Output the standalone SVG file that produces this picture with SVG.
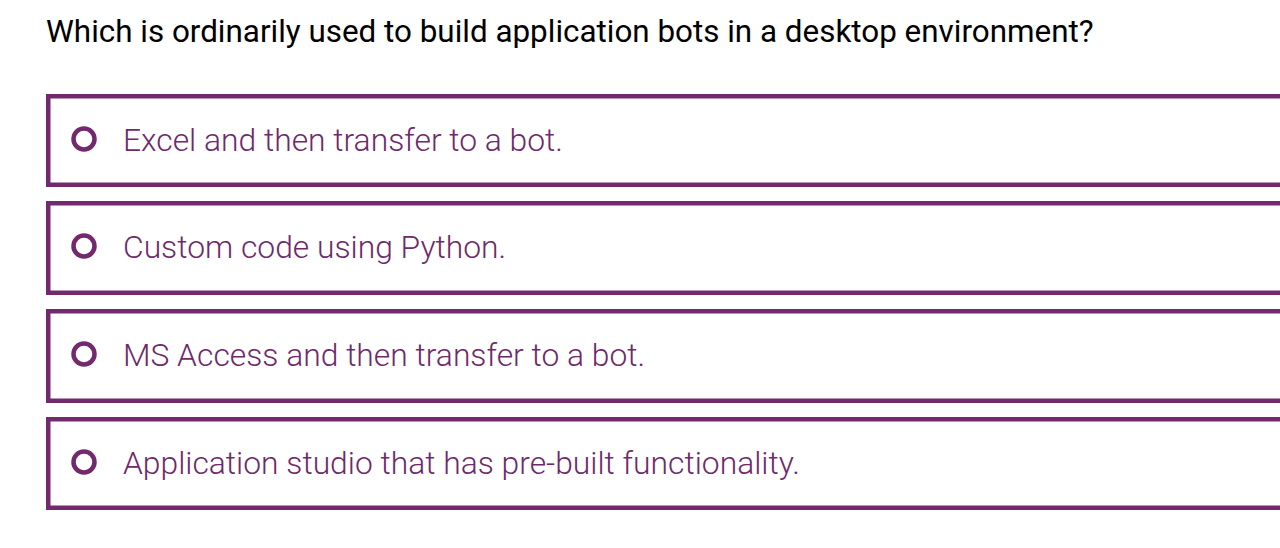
<svg xmlns="http://www.w3.org/2000/svg" width="1280" height="548" viewBox="0 0 1280 548">
<style>
.q{font-family:Roboto,"Liberation Sans",sans-serif;font-size:31.4px;fill:#000;}
.box{fill:#fff;stroke:#73296e;stroke-width:4.5;}
.dot{fill:none;stroke:#73296e;stroke-width:4.5;}
.t{font-family:Roboto,"Liberation Sans",sans-serif;font-weight:300;font-size:31.8px;fill:#6e2a6b;}
</style>
<rect x="0" y="0" width="1280" height="548" fill="#fff"/>
<text class="q" x="46" y="42">Which is ordinarily used to build application bots in a desktop environment?</text>
<g id="opt1">
<rect class="box" x="48.25" y="96.25" width="1250" height="88.5"/>
<circle class="dot" cx="84" cy="139" r="10.5"/>
<text class="t" x="123" y="151">Excel and then transfer to a bot.</text>
</g>
<g id="opt2">
<rect class="box" x="48.25" y="203.25" width="1250" height="89.5"/>
<circle class="dot" cx="84" cy="246" r="10.5"/>
<text class="t" x="123" y="258">Custom code using Python.</text>
</g>
<g id="opt3">
<rect class="box" x="48.25" y="311.25" width="1250" height="89.5"/>
<circle class="dot" cx="84" cy="354" r="10.5"/>
<text class="t" x="123" y="366">MS Access and then transfer to a bot.</text>
</g>
<g id="opt4">
<rect class="box" x="48.25" y="419.25" width="1250" height="88.5"/>
<circle class="dot" cx="84" cy="462" r="10.5"/>
<text class="t" x="123" y="474">Application studio that has pre-built functionality.</text>
</g>
<g id="connectors"></g>
</svg>
